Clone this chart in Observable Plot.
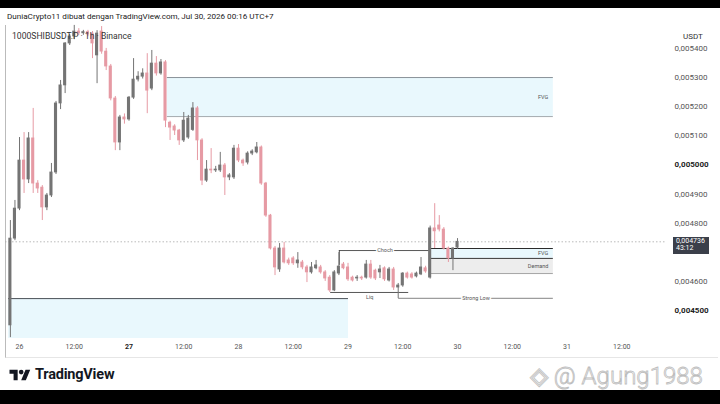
<!DOCTYPE html>
<html><head><meta charset="utf-8">
<script src="https://cdn.jsdelivr.net/npm/d3@7"></script>
<script src="https://cdn.jsdelivr.net/npm/@observablehq/plot@0.6"></script>
<style>
body{margin:0;background:#fff;font-family:Roboto,"Liberation Sans",sans-serif;}
#wrap{position:relative;width:720px;height:404px;overflow:hidden;background:#fff;}
.bar{position:absolute;left:0;width:720px;background:#000;}
#hdr{position:absolute;left:7px;top:11px;font-size:8.1px;color:#222;white-space:nowrap;}
#frame{position:absolute;left:5px;top:25px;width:712px;height:332px;border-left:1px solid #bbb;border-bottom:1px solid #e6e6e6;}
#chart{position:absolute;left:0;top:22px;}
#sym{position:absolute;left:12px;top:31px;font-size:8.6px;color:#333;white-space:nowrap;}
#usdt{position:absolute;left:683px;top:32px;font-size:8px;color:#333;}
#plabel{position:absolute;left:673px;width:36px;height:17px;background:#3b3f4a;color:#fff;font-size:7px;line-height:7.5px;padding:1px 0 0 3px;box-sizing:border-box;}
#tv{position:absolute;left:8px;top:366px;font-size:14.5px;font-weight:700;color:#131722;display:flex;align-items:center;gap:3px;letter-spacing:-0.2px;}
#wm{position:absolute;left:530px;top:362px;font-size:24px;color:#fff;-webkit-text-stroke:0.8px #bdbdbd;white-space:nowrap;font-weight:300;}
</style></head><body>
<div id="wrap">
  <div class="bar" style="top:0;height:8px"></div>
  <div id="hdr">DuniaCrypto11 dibuat dengan TradingView.com, Jul 30, 2026 00:16 UTC+7</div>
  <div id="frame"></div>
  <div id="chart"></div>
  <div id="sym">1000SHIBUSDT.P · 1h · Binance</div>
  <div id="usdt">USDT</div>
  <div id="plabel"></div>
  <div id="tv"><svg width="24" height="14" viewBox="0 0 36 24"><path d="M14 21H7V10H0V3h14v18zM28 21h-8l7.5-18h8L28 21z" fill="#131722"/><circle cx="20" cy="7" r="4" fill="#131722"/></svg><span>TradingView</span></div>
  <div id="wm">◈ @ Agung1988</div>
  <div class="bar" style="top:390px;height:14px"></div>
</div>
<script>
// hours since Jul 26 00:00 (1h candles)
const hours = [-2,-1,0,1,2,3,4,5,6,7,8,9,10,11,12,13,14,15,16,17,18,19,20,21,22,23,24,25,26,27,28,29,30,31,32,33,34,35,36,37,38,39,40,41,42,43,44,45,46,47,48,49,50,51,52,53,54,55,56,57,58,59,60,61,62,63,64,65,66,67,68,69,70,71,72,73,74,75,76,77,78,79,80,81,82,83,84,85,86,87,88,89,90,91,92,93,94,95,96];
const open = [0.004449,0.004747,0.004850,0.005015,0.004950,0.005091,0.004936,0.004922,0.004854,0.004895,0.004974,0.005211,0.005273,0.005417,0.005441,0.005458,0.005452,0.005456,0.005451,0.005376,0.005458,0.005389,0.005338,0.005228,0.005077,0.005163,0.005156,0.005231,0.005293,0.005303,0.005314,0.005262,0.005348,0.005314,0.005352,0.005145,0.005132,0.005118,0.005084,0.005094,0.005120,0.005194,0.005084,0.004946,0.004984,0.004981,0.004981,0.004998,0.004957,0.004957,0.005056,0.005015,0.005008,0.005039,0.005043,0.005060,0.004936,0.004826,0.004713,0.004641,0.004713,0.004672,0.004679,0.004662,0.004665,0.004648,0.004631,0.004645,0.004648,0.004631,0.004613,0.004569,0.004627,0.004658,0.004648,0.004613,0.004610,0.004613,0.004613,0.004658,0.004637,0.004631,0.004645,0.004603,0.004641,0.004579,0.004586,0.004627,0.004624,0.004617,0.004624,0.004645,0.004613,0.004782,0.004792,0.004778,0.004713,0.004679,0.004716];
const high = [0.004809,0.004878,0.005094,0.005111,0.005111,0.005194,0.004946,0.004929,0.004902,0.005005,0.005218,0.005290,0.005420,0.005448,0.005479,0.005468,0.005462,0.005462,0.005458,0.005461,0.005475,0.005400,0.005345,0.005235,0.005170,0.005175,0.005235,0.005365,0.005320,0.005330,0.005382,0.005393,0.005372,0.005362,0.005358,0.005150,0.005138,0.005122,0.005180,0.005170,0.005214,0.005200,0.005090,0.005015,0.005056,0.004995,0.005043,0.005005,0.004970,0.005067,0.005070,0.005020,0.005045,0.005052,0.005077,0.005065,0.004940,0.004830,0.004720,0.004730,0.004734,0.004680,0.004685,0.004699,0.004672,0.004655,0.004665,0.004672,0.004655,0.004637,0.004620,0.004637,0.004699,0.004665,0.004662,0.004618,0.004620,0.004618,0.004672,0.004672,0.004642,0.004655,0.004650,0.004648,0.004648,0.004593,0.004630,0.004632,0.004630,0.004632,0.004682,0.004652,0.004790,0.004867,0.004826,0.004785,0.004718,0.004716,0.004747];
const low = [0.004407,0.004740,0.004843,0.004902,0.004936,0.004902,0.004902,0.004809,0.004843,0.004888,0.004967,0.005190,0.005245,0.005410,0.005430,0.005444,0.005445,0.005440,0.005365,0.005279,0.005380,0.005324,0.005220,0.005049,0.005049,0.005140,0.005150,0.005225,0.005285,0.005295,0.005176,0.005255,0.005305,0.005308,0.005128,0.005084,0.005101,0.005067,0.005077,0.005088,0.005115,0.005015,0.004929,0.004940,0.004970,0.004974,0.004974,0.004895,0.004946,0.004950,0.005008,0.004995,0.005000,0.005032,0.005038,0.004930,0.004820,0.004708,0.004620,0.004631,0.004660,0.004655,0.004655,0.004645,0.004640,0.004596,0.004625,0.004640,0.004625,0.004600,0.004562,0.004565,0.004620,0.004640,0.004600,0.004598,0.004600,0.004603,0.004608,0.004607,0.004603,0.004610,0.004600,0.004598,0.004569,0.004541,0.004580,0.004608,0.004608,0.004612,0.004620,0.004628,0.004608,0.004713,0.004770,0.004708,0.004665,0.004637,0.004710];
const close = [0.004747,0.004850,0.005015,0.004950,0.005091,0.004936,0.004919,0.004854,0.004895,0.004974,0.005211,0.005273,0.005417,0.005441,0.005458,0.005452,0.005456,0.005448,0.005417,0.005451,0.005389,0.005338,0.005228,0.005077,0.005163,0.005156,0.005231,0.005293,0.005303,0.005314,0.005255,0.005348,0.005314,0.005352,0.005152,0.005128,0.005118,0.005084,0.005152,0.005159,0.005194,0.005084,0.004946,0.004984,0.004981,0.004984,0.004998,0.004957,0.004964,0.005056,0.005015,0.005005,0.005039,0.005046,0.005060,0.004936,0.004826,0.004713,0.004648,0.004713,0.004665,0.004662,0.004662,0.004672,0.004648,0.004631,0.004648,0.004655,0.004631,0.004610,0.004569,0.004631,0.004651,0.004645,0.004607,0.004603,0.004613,0.004610,0.004658,0.004613,0.004610,0.004641,0.004607,0.004641,0.004579,0.004586,0.004627,0.004613,0.004613,0.004627,0.004648,0.004634,0.004782,0.004772,0.004778,0.004713,0.004679,0.004713,0.004736];

const lastPrice = 0.004736;
const countdown = "43:12";

// zones (hours, prices)
const fvgZones = [
  {start:32.4, end:117, top:0.005300, bottom:0.005166},
  {start:90.1, end:117, top:0.004713, bottom:0.004679}
];
const demandZones = [{start:90.1, end:117, top:0.004679, bottom:0.004627}];
const supportZones = [{start:-2.4, end:72.1, top:0.004541, bottom:0.004404}];
const levels = [
  {name:"Choch", start:70.1, end:90.1, price:0.004706},
  {name:"Liq", start:68.2, end:85.3, price:0.004562},
  {name:"Strong Low", start:83.1, end:117, price:0.004542}
];

const yTicks = [0.0045,0.0046,0.0048,0.0049,0.0050,0.0051,0.0052,0.0053,0.0054];
const yBold = [0.0045,0.0050];
const xTicks = [0,12,24,36,48,60,72,84,96,108,120,132];
const xLabels = ["26","12:00","27","12:00","28","12:00","29","12:00","30","12:00","31","12:00"];
const xBold = [24];

const candles = hours.map((h,i)=>({h, o:open[i], hi:high[i], lo:low[i], c:close[i]}));
const UP = "#747474", DOWN = "#e69aa4";
const fmt = d => d.toFixed(6).replace(".", ",");
const xfmt = d => xLabels[xTicks.indexOf(d)];

const chart = Plot.plot({
  width:720, height:340, marginLeft:5, marginRight:55, marginTop:0, marginBottom:24,
  style:{background:"transparent", fontFamily:"Roboto, sans-serif", overflow:"visible"},
  x:{type:"linear", domain:[-3.07,141.58], axis:null},
  y:{domain:[0.004404,0.005489], axis:null},
  color:{type:"identity"},
  marks:[
    Plot.rect(supportZones, {x1:"start", x2:"end", y1:"top", y2:"bottom", fill:"#e9f8fd"}),
    Plot.rect(fvgZones, {x1:"start", x2:"end", y1:"top", y2:"bottom", fill:"#e9f8fd"}),
    Plot.rect(demandZones, {x1:"start", x2:"end", y1:"top", y2:"bottom", fill:"#ededed"}),
    Plot.ruleY([lastPrice], {stroke:"#a8a8a8", strokeDasharray:"1.5,2", strokeWidth:0.8}),
    Plot.ruleY(fvgZones.slice(0,1), {y:"top", x1:"start", x2:"end", stroke:"#7f868c", strokeWidth:0.9}),
    Plot.ruleY(fvgZones.slice(0,1), {y:"bottom", x1:"start", x2:"end", stroke:"#9aa0a6", strokeWidth:0.9}),
    Plot.ruleY(fvgZones.slice(1), {y:"top", x1:"start", x2:"end", stroke:"#2b2b2b", strokeWidth:1}),
    Plot.ruleY(fvgZones.slice(1), {y:"bottom", x1:"start", x2:"end", stroke:"#3a3a3a", strokeWidth:1}),
    Plot.ruleY(demandZones, {y:"bottom", x1:"start", x2:"end", stroke:"#9a9a9a", strokeWidth:0.9}),
    Plot.ruleY(supportZones, {y:"top", x1:"start", x2:"end", stroke:"#4a4f55", strokeWidth:1}),
    Plot.ruleY(levels, {y:"price", x1:"start", x2:"end", stroke: d => d.name==="Strong Low" ? "#777" : "#444", strokeWidth:0.9}),
    Plot.ruleX(levels.slice(0,1), {x:"start", y1:"price", y2:0.004655, stroke:"#444", strokeWidth:0.9}),
    Plot.ruleX(candles, {x:"h", y1:"lo", y2:"hi", stroke: d => d.c>=d.o ? UP : DOWN, strokeWidth:1}),
    Plot.rect(candles, {x1: d=>d.h-0.34, x2: d=>d.h+0.34, y1:"o", y2:"c", fill: d => d.c>=d.o ? UP : DOWN, insetTop:-0.4, insetBottom:-0.4}),
    Plot.text(fvgZones, {x:"end", y: d=>(d.top+d.bottom)/2, text:()=>"FVG", textAnchor:"end", dx:-5, fontSize:5.5, fill:"#555"}),
    Plot.text(demandZones, {x:"end", y: d=>(d.top+d.bottom)/2, text:()=>"Demand", textAnchor:"end", dx:-5, fontSize:5.5, fill:"#555"}),
    Plot.text(levels.filter(d=>d.name!=="Liq"), {x: d=>(d.start+d.end)/2, y:"price", text:"name", fontSize:5.5, fill:"#555", stroke:"white", strokeWidth:3, paintOrder:"stroke"}),
    Plot.text(levels.filter(d=>d.name==="Liq"), {x: d=>(d.start+d.end)/2, y:"price", text:"name", dy:4.5, fontSize:5.5, fill:"#555"}),
    Plot.axisY({anchor:"right", ticks:yTicks.filter(t=>!yBold.includes(t)), tickSize:0, tickPadding:9, tickFormat:fmt, fontSize:8, color:"#555", textAnchor:"start"}),
    Plot.axisY({anchor:"right", ticks:yBold, tickSize:0, tickPadding:9, tickFormat:fmt, fontSize:8, color:"#222", fontWeight:"bold", textAnchor:"start"}),
    Plot.axisX({anchor:"bottom", ticks:xTicks.filter(t=>!xBold.includes(t)), tickSize:0, tickPadding:6, tickFormat:xfmt, fontSize:7, color:"#555"}),
    Plot.axisX({anchor:"bottom", ticks:xBold, tickSize:0, tickPadding:6, tickFormat:xfmt, fontSize:7, color:"#222", fontWeight:"bold"})
  ]
});
document.getElementById("chart").appendChild(chart);
const ypx = 22 + chart.scale("y").apply(lastPrice);
const pl = document.getElementById("plabel");
pl.style.top = (ypx - 4.5) + "px";
pl.innerHTML = fmt(lastPrice) + "<br>" + countdown;
</script>
</body></html>
